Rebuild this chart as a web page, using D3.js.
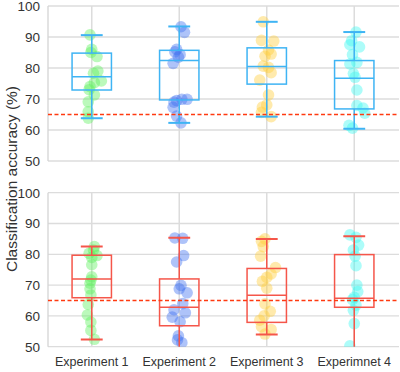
<!DOCTYPE html>
<html><head><meta charset="utf-8">
<script src="https://cdn.jsdelivr.net/npm/d3@7"></script>
<style>body{margin:0;background:#fff}svg{display:block}text{font-family:"Liberation Sans",Arial,sans-serif;fill:#333}</style>
</head><body><svg id="c" width="400" height="372"></svg>
<script>
const categories = ["Experiment 1","Experiment 2","Experiment 3","Experimnet 4"];
const yTicks = [50,60,70,80,90,100];
const chance = 65;
// top panel points
const top1 = [90.7,86.0,85.0,83.7,79.0,78.3,75.8,75.3,74.0,73.0,71.3,69.1,65.9,63.8];
const top2 = [93.3,91.5,86.0,85.2,84.3,83.5,81.5,69.9,69.9,69.5,69.0,67.3,64.5,62.3];
const top3 = [94.9,88.9,88.7,85.8,84.5,83.8,80.6,80.2,78.5,76.1,71.3,68.1,67.4,65.7,64.3];
const top4 = [91.6,88.8,87.5,86.8,84.3,81.8,81.3,78.2,77.0,72.9,67.9,67.1,65.4,61.5,60.6];
// bottom panel points
const bot1 = [82.5,81.4,80.3,79.6,79.0,76.6,72.7,71.6,70.6,68.8,66.8,63.7,60.3,58.0,55.3,52.4];
const bot2 = [85.3,85.2,79.6,77.5,69.9,68.8,67.5,64.0,62.0,61.0,59.6,58.1,53.5,52.2,51.3];
const bot3 = [85.0,84.2,82.5,79.4,75.7,73.6,72.5,71.2,69.0,63.9,61.5,60.0,58.6,56.5,55.6,54.1];
const bot4 = [86.3,85.5,83.0,81.4,79.4,76.3,70.0,67.9,66.0,65.3,63.5,61.8,57.5,50.3];
// jitter offsets (fraction of band)
const jitterTop1 = [-0.02,0.0,-0.01,0.06,0.07,0.02,0.11,0.03,-0.02,-0.03,0.03,-0.04,-0.04,-0.04];
const jitterTop2 = [0.02,0.06,-0.03,-0.05,0.01,-0.01,-0.07,0.03,0.09,-0.03,-0.06,-0.07,-0.03,0.02];
const jitterTop3 = [-0.04,-0.06,0.08,0.02,0.05,-0.02,-0.04,0.02,0.05,-0.08,0.02,0.0,-0.05,-0.06,0.05];
const jitterTop4 = [0.02,-0.03,-0.05,0.06,-0.02,0.03,-0.05,-0.01,0.01,0.03,0.03,0.10,0.12,-0.06,-0.02];
const jitterBot1 = [0.03,0.02,-0.03,0.06,0.0,0.0,0.0,-0.01,-0.02,-0.02,-0.01,-0.04,-0.05,-0.01,-0.01,0.03];
const jitterBot2 = [-0.05,0.04,0.05,-0.03,0.02,0.0,0.09,0.04,-0.06,0.07,-0.08,0.01,-0.01,-0.02,0.03];
const jitterBot3 = [-0.02,-0.06,-0.04,-0.07,0.10,0.05,0.0,-0.05,0.0,-0.02,0.04,-0.03,-0.08,-0.06,0.05,-0.02];
const jitterBot4 = [-0.05,0.02,0.05,-0.01,0.01,0.02,0.03,0.04,0.0,-0.02,0.02,-0.01,0.0,-0.05];
// box stats [whiskerLow, q1, median, q3, whiskerHigh]
const boxTop1 = [63.8,72.9,77.2,84.8,90.6];
const boxTop2 = [62.3,69.7,82.4,85.7,93.4];
const boxTop3 = [64.3,74.8,80.5,86.5,94.9];
const boxTop4 = [60.4,66.8,76.7,82.4,91.6];
const boxBot1 = [52.3,65.9,72.0,79.7,82.5];
const boxBot2 = [49.0,56.8,62.8,72.0,85.4];
const boxBot3 = [54.0,57.9,66.7,75.4,85.0];
const boxBot4 = [49.0,62.8,65.7,79.9,85.9];
const pointColors = ["#5ef05e","#3f6ff0","#ffcc3a","#3cf7f0"];
const boxColorTop = "#3fb4f4";
const boxColorBot = "#f5564a";

const svg = d3.select("#c");
const left = 48, right = 399;
const x = d3.scaleBand().domain(categories).range([left, 398]);
const panels = [
  {pts:[top1,top2,top3,top4], jit:[jitterTop1,jitterTop2,jitterTop3,jitterTop4], box:[boxTop1,boxTop2,boxTop3,boxTop4], col:boxColorTop, y0:6, y1:161},
  {pts:[bot1,bot2,bot3,bot4], jit:[jitterBot1,jitterBot2,jitterBot3,jitterBot4], box:[boxBot1,boxBot2,boxBot3,boxBot4], col:boxColorBot, y0:192.7, y1:346.7}
];
panels.forEach((p,pi)=>{
  const y = d3.scaleLinear().domain([50,100]).range([p.y1,p.y0]);
  const g = svg.append("g");
  const cid = "clip"+pi;
  svg.append("clipPath").attr("id",cid).append("rect").attr("x",left).attr("y",p.y0).attr("width",right-left).attr("height",p.y1-p.y0);
  // grid
  g.selectAll(".hg").data(yTicks).join("line").attr("x1",left).attr("x2",right)
    .attr("y1",d=>y(d)).attr("y2",d=>y(d)).attr("stroke","#dcdcdc").attr("stroke-width",1.3);
  g.selectAll(".vg").data(categories).join("line").attr("x1",d=>x(d)+x.bandwidth()/2).attr("x2",d=>x(d)+x.bandwidth()/2)
    .attr("y1",p.y0).attr("y2",p.y1).attr("stroke","#dcdcdc").attr("stroke-width",1.5);
  g.append("line").attr("x1",left).attr("x2",left).attr("y1",p.y0).attr("y2",p.y1).attr("stroke","#d4d4d4").attr("stroke-width",1.3);
  // tick labels
  const ax = d3.axisLeft(y).tickValues(yTicks).tickSize(0).tickPadding(8);
  const ag = g.append("g").attr("transform",`translate(${left},0)`).call(ax);
  ag.select(".domain").remove();
  ag.selectAll("text").attr("font-size",13.5).attr("fill","#333").style("font-family","'Liberation Sans',Arial,sans-serif");
  const inner = g.append("g").attr("clip-path",`url(#${cid})`);
  // points
  categories.forEach((c,ci)=>{
    const cx = x(c)+x.bandwidth()/2;
    inner.selectAll(null).data(p.pts[ci]).join("circle")
      .attr("cx",(d,i)=>cx + p.jit[ci][i]*x.bandwidth())
      .attr("cy",d=>y(d)).attr("r",5.8)
      .attr("fill",pointColors[ci]).attr("fill-opacity",0.42);
  });
  // boxes
  categories.forEach((c,ci)=>{
    const cx = x(c)+x.bandwidth()/2;
    const b = p.box[ci];
    const bw = x.bandwidth()*0.45, cw = x.bandwidth()*0.25;
    const bg = inner.append("g").attr("stroke",p.col).attr("stroke-width",1.5).attr("fill","none");
    bg.append("line").attr("x1",cx).attr("x2",cx).attr("y1",y(b[0])).attr("y2",y(b[1]));
    bg.append("line").attr("x1",cx).attr("x2",cx).attr("y1",y(b[3])).attr("y2",y(b[4]));
    bg.append("line").attr("x1",cx-cw/2).attr("x2",cx+cw/2).attr("y1",y(b[0])).attr("y2",y(b[0])).attr("stroke-width",2);
    bg.append("line").attr("x1",cx-cw/2).attr("x2",cx+cw/2).attr("y1",y(b[4])).attr("y2",y(b[4])).attr("stroke-width",2);
    bg.append("rect").attr("x",cx-bw/2).attr("width",bw).attr("y",y(b[3])).attr("height",y(b[1])-y(b[3]));
    bg.append("line").attr("x1",cx-bw/2).attr("x2",cx+bw/2).attr("y1",y(b[2])).attr("y2",y(b[2]));
  });
  // chance line
  inner.append("line").attr("x1",left).attr("x2",right).attr("y1",y(chance)).attr("y2",y(chance))
    .attr("stroke","#ff3a10").attr("stroke-width",1.4).attr("stroke-dasharray","4,2.5");
});
// x labels
svg.selectAll(".xl").data(categories).join("text").attr("x",d=>x(d)+x.bandwidth()/2).attr("y",366)
  .attr("text-anchor","middle").attr("font-size",12.5).text(d=>d);
// y label
svg.append("text").attr("transform","translate(16.5,179) rotate(-90)").attr("text-anchor","middle")
  .attr("font-size",15.5).text("Classification accuracy (%)");
</script></body></html>
